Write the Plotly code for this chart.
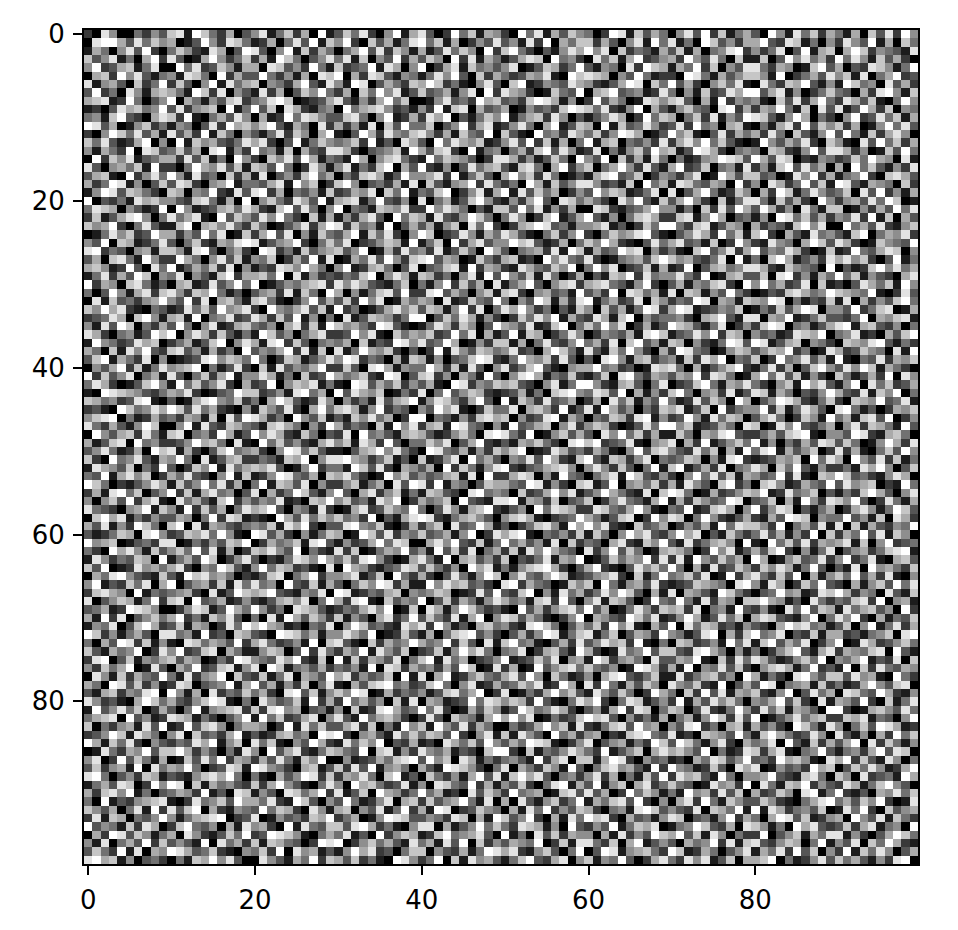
import plotly.graph_objects as go

# Grey levels of each cell: 0 = black ... 9 = white
ROWS = [
"2085004253 7819742603 5814726091 3748205916 8302947165 2094816375 4029817364 0583927146 3095184726 4160738295",
"0899638475 6013952874 1260483917 5920736148 9471602538 3518290647 7263058194 8140973526 6932871405 2853916074",
"1640583920 4752186039 8305917264 0469382751 6138475092 7942031586 9580724316 3716045892 5248039167 0697254318",
"7358140692 8301695247 2619740358 4817053926 3750928164 1368709452 0847169235 6295384071 1703958462 9485173620",
"5923671480 0948237516 6087352941 7234918605 9026817453 5801376249 3154082976 1649270538 8426501793 6032875149",
"0672958314 5187409263 3942516087 9062873154 1485930726 4236581097 8760539412 2098416357 7519024638 5718046923",
"8156307249 2730591846 7054269318 5198036427 6972410583 0791254386 5213698074 9362057481 0842769315 1974508362",
"3924085167 6419728053 1826037594 2607495813 7346158092 8652017439 0679345128 4051723869 9368150247 4306289517",
"6781294035 9064153782 4589701236 8315269470 0158342967 3427986150 2936401875 7830619254 5107382694 2863710495",
"1203867459 3825670914 9370862145 0946785231 5291780634 6015342798 7482159063 1574308926 2659417083 8139627054",
"4517932068 7291046385 0612948753 3784059126 2869031475 9146728503 1358602947 6047281539 8731596042 0592384716",
"9836015724 1540382967 5793164082 6251807394 4703592681 2584069137 6091734852 3829450671 0416829375 7260159483",
"2059748361 8362917405 3148275069 1039628547 8526174390 7310945286 4725986013 9571038264 6284073159 3941726850",
"7483126905 0917563248 6820391475 4572913086 3094865712 5839271604 9167043528 2685947310 1953648207 5108394726",
"5164290873 4736089152 9451706328 8620345719 6378209145 0462793851 2804157396 7139862045 4076215938 8625017394",
"0927581346 6283714095 2075839614 3196057842 1947653028 8625137409 5390726184 0412569873 9638702154 2374965081",
"8305647192 2049658371 7639402851 5814279063 9215038467 3178406925 7046952831 6923704518 2517938460 6094731528",
"3671092584 9518340726 1803527946 0427861395 5682914730 6957284013 1689347025 4258019637 7340185926 1459207863",
"6249815037 3872056914 4368195702 7950342618 0731569284 2409617358 8523170946 1874365092 5086249371 9831654072",
"1598376420 7605492183 8926043517 2365807491 4379025816 9183746025 3957612480 8036941275 0629714853 4708392516",
"9032418675 5327841609 0574286391 6781493250 8046137952 1526930874 6420859317 3695207148 8417362095 2563849701",
"4876053129 0951236748 6217938405 9043176582 2958640317 7394815260 0872134695 5140728396 3962508417 7015263948",
"2713689504 8468109375 3859420716 1526830947 6183259740 4850279136 9315047862 2781596034 1509847362 5482917063",
"7569204831 1790675842 7401358269 8274519036 3615708492 0267983415 5681302749 9427813650 6243179580 0946382157",
"0148572396 6253948017 2693805174 3691748205 9702385164 8631047259 2047568931 0358629471 7920631845 3179046582",
"5390761248 3047216589 8135692047 4802357619 1470926835 5978312604 7596210384 6834170295 2185406973 8620175439",
"8924305617 7518930462 0982417356 7359016284 5281374096 3045628197 1634978052 4107935826 9354862017 1294368705",
"3607841952 2964058371 5470263918 0164839527 8936501742 6712095843 8201456379 7563248091 4079613528 6857203914",
"6751293084 9136472805 1328759640 5912674038 0347819265 2186437590 4958023716 1290367458 8621754309 0312795846",
"1482639705 4805317926 6749081523 2437905861 7624058193 9537184026 0317692845 5842901673 3708925164 9471532068",
"9265078413 0671283594 9013546782 8586321470 4159273608 1469305782 6784315920 3615478209 5946238071 2038647195",
"4039516827 8527694130 3562817409 6051478392 2893640571 7820563419 3529087461 8076153942 0132786459 7654910283",
"0817342569 5392806741 7841025936 3729580164 6508127439 4053971628 9146238075 2439806517 6598041327 1806253794",
"7596821043 1284739568 2095468371 9240136857 3761592804 8695240317 5073614982 6981235470 1427369805 5392478016",
"2348607951 6719045823 8627391504 0813765249 9037486152 0274859163 2861790534 4520679318 8065912473 3249065781",
"5183970426 3940581267 4350682719 7564298310 1486275039 6538127904 7495802613 9763148025 2798045136 8916732504",
"8620451397 9058627314 1973504682 2395810746 5723948061 3917602485 0254361897 1348592760 5341287690 4581206379",
"1954238670 2461379058 6189273045 4607132985 8349601527 7160483259 4628079351 7605214983 9813670542 0765893142",
"6407185932 7835162409 3546928170 8149657203 0291853764 5823069741 8317495206 2984301576 3576924018 6237540819",
"3791642805 0123895764 9402761358 5982430617 6150347982 1496572830 3089516724 5172869043 7029458361 9104382657",
"0536927148 5679041382 0718354692 2730896154 4962718305 8247931056 6945230187 8406135792 1482603795 3859716420",
"9273580461 8304726915 5861407239 6457219803 7825064193 0589614372 1370894265 3659287401 6948371520 7413629085",
"4862013795 1947358206 2390576814 1098364725 3610982547 6732058149 9521673048 0237941658 4205719683 1590847236",
"1098765324 6582013497 7235189460 9386570142 8049357621 2361407895 4873906152 7940562813 8716403259 6328175904",
"7645238910 3016895472 4069731285 0524183679 1587426930 9175283460 2608471539 4128375096 0359862147 2076593481",
"2310974586 9738462105 1753820694 7861592430 5396810274 4806752913 8196350427 6813709245 5927148630 8941302657",
"5789041263 4265170839 8624095371 3175846029 9043152786 7052389164 0437628915 2395184760 3684027519 4617839025",
"8426315970 0591832764 3178640529 6243071958 2671984305 1934670582 5762013849 9571236408 7018593246 0582764193",
"0953672841 7804529613 9586217403 2809453167 6312574089 8429015736 3085947261 1740658932 2463789105 5398216740",
"6137809452 2359674081 0947352168 5718629304 4758036921 3165742089 7923481056 8062913574 9150426387 3740159628",
"3584126097 8162037945 6205984731 1036795842 0984361527 5790128634 2641059378 5328470619 4891635702 8261047395",
"7209458316 5940813672 2431769058 8965247130 7125809463 0548396217 9317625804 3476051892 1236570948 6095382714",
"1865370429 3027591846 7683015924 4197382065 3609274158 9213467850 5852730491 7913628045 8607493152 2418695037",
"4391685702 6483205917 1259843607 6842019573 5346718092 2687051943 0468197325 2059483716 5349281076 9734215860",
"9740213586 1735948260 4917638052 2571460839 8291540376 6439815207 8139056472 6185307924 0785126439 3856702194",
"2618947035 9271684503 8062497315 9306825714 1763208945 4072369581 3596421807 9840162357 6912845703 1427963058",
"5057392681 0846317925 3548120769 5734186902 6457093218 8916527034 7025843169 1627534980 3470619528 7593028416",
"8432056917 5192736048 6793054182 0168237549 4038516792 1350948762 2874369510 4391278605 9258703146 0268514973",
"0796814253 3650492871 2109638475 7452903168 9821467530 5786102349 6413780295 8704952136 2163987054 4935170862",
"6381529740 7908165324 5471869203 3895471026 2570834961 3024785196 9582107346 0253619487 7529046381 8071632549",
"3124760895 2376849510 9836205147 6019738254 7346159028 6891043527 1740596832 5968031742 4836152907 2649381750",
"9567013428 8014253769 0264571893 1523694870 0685932714 9463518072 4306821759 3182467509 1094738265 6817059234",
"4209685173 5749381602 7685390421 8270146593 5193728046 2718596430 8259374016 7640295813 6379205148 0356247891",
"1852437609 1463970258 3021487596 4738952016 8419067352 7032481659 0137465928 2819537460 9601573482 5924810673",
"7390128564 6820549731 5947623108 0965213487 3742509681 4157896203 6921038574 9406182375 2758614930 3180956427",
"0648953217 3197856402 1378046925 5681370942 6203841597 0584369712 3568207149 4573801926 8427390615 7493628105",
"5913274806 9035627184 8450932716 3047598261 1958673420 8926430175 7094156382 1237654089 5186027493 2061573948",
"2786509143 4562081397 6793215480 9812436705 4576012839 3279051846 2485973061 8065319742 0349561287 9625408317",
"8035761492 7809346125 2136758049 6289107354 9037264158 6451782930 5817630294 3941826507 7965130842 4378290561",
"3461298750 0258713964 9524087631 2436859017 0861597423 1093625784 9360148527 6728045193 2510849376 1846735092",
"6192803574 6924175830 4081963752 7153068249 3742816905 8736410259 0653297481 2596138470 6873215904 8592061437",
"1548037962 3716502849 7965120438 0597342186 8295130674 5218974036 4729581063 9084762315 3206978451 3705914826",
"9725146308 8451923076 3209874615 5864901273 1604789352 0362598147 8147036529 5413890627 9458032716 6231457089",
"4063982715 1087465392 6842351907 8310726459 6459273081 7945103628 3586729104 0762351948 1793648025 9018623574",
"7316459028 5923780641 1576039284 2649185370 2371596840 4580267319 6201845937 7328964051 4025793168 2654780931",
"2890371546 7365014298 5438692170 9172653804 7918460235 9123748056 1972564083 3659107284 8631257490 5469132807",
"5274690183 0649237815 8097145362 4351908726 4526397018 2601935784 7435019862 6190548372 0578614923 1907284365",
"0851726439 4182569073 2714806539 6825347091 8069125743 6839507412 5068932471 1824673509 6142089537 7385610942",
"6409837251 2870345916 9361527048 1063789452 3794058126 3475812960 8294163750 8547219036 3980456172 4126953780",
"3167254890 9516082437 4620893715 7598016243 5137846902 8014269573 1853740296 4072938165 7215903846 0874396215",
"8523106974 6325798104 0853471926 2946350718 0651239487 5762931048 6920487135 2916385740 5469372081 6539207148",
"1935847026 3049156782 7289560341 5071289634 9482016375 1397458620 3516928704 7603821495 2847165309 9201675384",
"4678093512 8761420359 1947236805 8319467520 2830754169 6958014237 9783052416 0461597283 9013584672 2768143059",
"7042561839 1293785046 6502918473 3682704195 7195382640 0423695718 2147839560 5389240671 6352097418 5047398612",
"2359718640 5807342691 3126745098 9205631847 4763920581 7185309462 5602178943 8120765394 1796423850 8315062947",
"9617482053 2438691570 8471053962 1847590326 1208647395 3649871025 8035614297 3974158206 4580931726 3690827415",
"0184265937 7962530418 5093682147 6439078152 8546132079 9207143586 4291357068 6753904128 7268104593 1452693870",
"5802937416 0173849265 2638417590 0512364789 3957086142 4531926807 7169820534 1206487359 3429675108 6927318504",
"3725619084 6594023871 9854206713 7283915640 6319875204 8064275193 0478563192 9541273086 8015342967 0374851269",
"8940352761 3215786940 4106359827 2658407913 0742516938 1796830452 5826041739 2867319405 5693217840 7508234196",
"1463870295 9807164532 7269531048 5096742381 5087439261 5372048916 3915706824 7430185629 0841769253 2861479530",
"6278591403 4652913087 1530874692 8137096524 9461208375 2945601783 8360294751 4195628370 6237508914 9213065847",
"4091325678 1028457396 6482197305 3941258067 2735694180 6083157249 1647839205 0682941753 3752104689 4637592018",
"7536048192 8379062154 3947620851 6705381492 6198023754 0618492537 6204518973 5328076491 9186245370 1849207356",
"2817604359 5146789023 8015342769 2460159873 3542870619 7359206184 9782063415 8703415926 4069837125 6095381742",
"9354172860 2794350618 5620918437 7389624105 8806135947 4287615093 2539147680 1459732608 7514096832 3726814509",
"0629837514 6085213749 2398751046 4813092576 1279456830 9140837265 5061825397 6937185042 2903571648 8152036974",
"5180463927 3531908462 7176430298 9025746318 4618390725 3654902718 8427069135 3064592817 8325760491 5380749621",
"3742918065 9863472105 4729085613 1596823047 7053261498 6821573049 0398156742 9712640358 1648293705 2917485036",
"8967150342 0417695830 0853164927 6372410985 2490718563 1479326805 7154930268 4285813706 6790412583 7463152890",
]

TICKS = [0, 20, 40, 60, 80]

z = [[int(c) for c in row.replace(" ", "")] for row in ROWS]
for i, r in enumerate(z):
    assert len(r) == 100, (i, len(r))
n_rows = len(z)
n_cols = len(z[0])

fig = go.Figure(
    go.Heatmap(
        z=z,
        x=list(range(n_cols)),
        y=list(range(n_rows)),
        colorscale=[[0, "black"], [1, "white"]],
        zmin=0,
        zmax=9,
        showscale=False,
        hoverinfo="skip",
    )
)

axis_common = dict(
    showline=True,
    linecolor="black",
    linewidth=2,
    mirror=True,
    ticks="outside",
    ticklen=9,
    tickwidth=2,
    tickcolor="black",
    tickvals=TICKS,
    ticktext=[str(t) for t in TICKS],
    tickfont=dict(family="DejaVu Sans", size=26, color="black"),
    ticklabelstandoff=3,
    showgrid=False,
    zeroline=False,
)

fig.update_layout(
    width=958,
    height=930,
    margin=dict(l=76, r=48, t=22, b=74),
    paper_bgcolor="white",
    plot_bgcolor="white",
    xaxis=dict(range=[-0.5, n_cols - 0.5], **axis_common),
    yaxis=dict(range=[n_rows - 0.5, -0.5], **axis_common),
)

fig.write_html("out.html")
